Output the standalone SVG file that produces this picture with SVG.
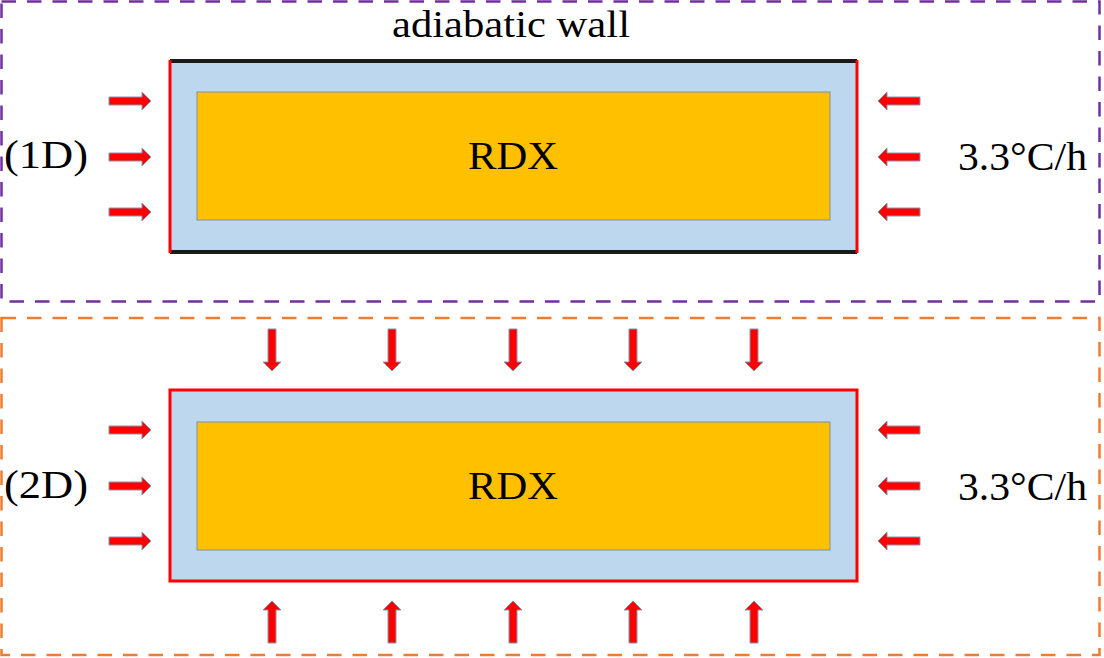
<svg xmlns="http://www.w3.org/2000/svg" width="1104" height="658" viewBox="0 0 1104 658">
<style>
.frame{fill:none;stroke-width:2.5;stroke-dasharray:14.5 11}
.shell{fill:#BDD7EE}
.core{fill:#FFC000;stroke:#7F8FA9;stroke-width:1}
.arrow{fill:#FF0000;stroke:#8497B0;stroke-width:1}
.lbl{font-family:"Liberation Serif",serif;fill:#000;font-size:40px}
</style>
<defs>
<path id="ar" class="arrow" d="M-21,-4 L12,-4 L12,-9 L21,0 L12,9 L12,4 L-21,4 Z"/>
</defs>
<rect x="1.5" y="1.5" width="1098" height="300" class="frame" stroke="#7030A0"/>
<rect x="1.5" y="318" width="1098" height="337" class="frame" stroke="#ED7D31"/>
<g id="top-sample">
<rect class="shell" x="170" y="61" width="687" height="191"/>
<rect class="core" x="197" y="92" width="633" height="128"/>
<line x1="170" y1="61" x2="857" y2="61" stroke="#1A1A1A" stroke-width="4"/>
<line x1="170" y1="252" x2="857" y2="252" stroke="#1A1A1A" stroke-width="4"/>
<line x1="170" y1="60" x2="170" y2="253" stroke="#FF0000" stroke-width="3"/>
<line x1="857" y1="60" x2="857" y2="253" stroke="#FF0000" stroke-width="3"/>
<text class="lbl" x="468" y="169" textLength="90" lengthAdjust="spacingAndGlyphs">RDX</text>
</g>
<g id="bottom-sample">
<rect class="shell" x="170" y="390" width="687" height="191"/>
<rect class="core" x="197" y="422" width="633" height="128"/>
<rect x="170" y="390" width="687" height="191" fill="none" stroke="#FF0000" stroke-width="3"/>
<text class="lbl" x="468" y="499" textLength="90" lengthAdjust="spacingAndGlyphs">RDX</text>
</g>
<g id="labels">
<text class="lbl" x="392" y="37" style="font-size:38px" textLength="238" lengthAdjust="spacingAndGlyphs">adiabatic wall</text>
<text class="lbl" x="4" y="168" textLength="84" lengthAdjust="spacingAndGlyphs">(1D)</text>
<text class="lbl" x="958" y="170" textLength="129" lengthAdjust="spacingAndGlyphs">3.3°C/h</text>
<text class="lbl" x="4" y="498" textLength="84" lengthAdjust="spacingAndGlyphs">(2D)</text>
<text class="lbl" x="958" y="500" textLength="129" lengthAdjust="spacingAndGlyphs">3.3°C/h</text>
</g>
<g id="connectors">
<use href="#ar" transform="translate(130,101)"/>
<use href="#ar" transform="translate(130,157)"/>
<use href="#ar" transform="translate(130,212)"/>
<use href="#ar" transform="translate(899,101) rotate(180)"/>
<use href="#ar" transform="translate(899,157) rotate(180)"/>
<use href="#ar" transform="translate(899,212) rotate(180)"/>
<use href="#ar" transform="translate(130,430)"/>
<use href="#ar" transform="translate(130,486)"/>
<use href="#ar" transform="translate(130,541)"/>
<use href="#ar" transform="translate(899,430) rotate(180)"/>
<use href="#ar" transform="translate(899,486) rotate(180)"/>
<use href="#ar" transform="translate(899,541) rotate(180)"/>
<use href="#ar" transform="translate(272,350) rotate(90)"/>
<use href="#ar" transform="translate(392,350) rotate(90)"/>
<use href="#ar" transform="translate(513,350) rotate(90)"/>
<use href="#ar" transform="translate(633,350) rotate(90)"/>
<use href="#ar" transform="translate(754,350) rotate(90)"/>
<use href="#ar" transform="translate(272,622) rotate(-90)"/>
<use href="#ar" transform="translate(392,622) rotate(-90)"/>
<use href="#ar" transform="translate(513,622) rotate(-90)"/>
<use href="#ar" transform="translate(633,622) rotate(-90)"/>
<use href="#ar" transform="translate(754,622) rotate(-90)"/>
</g>
</svg>
